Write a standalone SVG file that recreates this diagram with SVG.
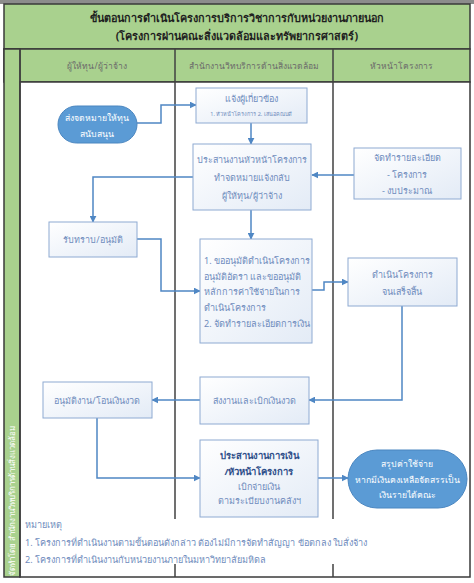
<svg xmlns="http://www.w3.org/2000/svg" width="474" height="583" viewBox="0 0 474 583">
<defs>
<linearGradient id="boxg" x1="0" y1="0" x2="1" y2="1">
<stop offset="0" stop-color="#ffffff"/>
<stop offset="1" stop-color="#e3ebf6"/>
</linearGradient>
<marker id="arr" viewBox="0 0 10 10" refX="9" refY="5" markerWidth="7" markerHeight="7" orient="auto" markerUnits="userSpaceOnUse">
<path d="M0,0 L10,5 L0,10 z" fill="#4f87c4"/>
</marker>
</defs>
<style>
text{font-family:"Noto Sans","Liberation Sans",sans-serif;}
.title{font-size:10.8px;font-weight:bold;fill:#1f1f1f;text-anchor:middle;}
.hdr{font-size:8.5px;fill:#6b6b6b;text-anchor:middle;}
.box{fill:url(#boxg);stroke:#8eaad2;stroke-width:1;}
.bt{font-size:9px;fill:#6f8cbd;text-anchor:middle;}
.btl{font-size:9.1px;fill:#6f8cbd;}
.bb{font-size:9.5px;fill:#2f4f8a;font-weight:bold;text-anchor:middle;}
.small{font-size:5.5px;fill:#6f8cbd;text-anchor:middle;}
.oval{fill:#5b9bd5;stroke:#4a86c0;stroke-width:1;}
.ot{font-size:8.7px;fill:#ffffff;text-anchor:middle;}
.lane{stroke:#404040;stroke-width:1.5;fill:none;}
.con{stroke:#4f87c4;stroke-width:1.5;fill:none;marker-end:url(#arr);}
.note{font-size:9.1px;fill:#6f8cbd;}
</style>
<rect x="0" y="0" width="474" height="583" fill="#ffffff"/>
<rect x="0" y="0" width="474" height="4" fill="#8c8c8c"/>
<!-- title and header -->
<rect x="4" y="4" width="466" height="45" fill="#a9d18e" stroke="#3a3a3a" stroke-width="1.5"/>
<text class="title" x="237" y="22">ขั้นตอนการดำเนินโครงการบริการวิชาการกับหน่วยงานภายนอก</text>
<text class="title" x="237" y="40">(โครงการผ่านคณะสิ่งแวดล้อมและทรัพยากรศาสตร์)</text>
<rect x="4" y="49" width="466" height="33" fill="#a9d18e" stroke="#3a3a3a" stroke-width="1.5"/>
<rect x="4" y="49" width="16" height="528" fill="#a9d18e" stroke="#3a3a3a" stroke-width="1.5"/>
<rect x="20" y="82" width="450" height="495" fill="#ffffff" stroke="#3a3a3a" stroke-width="1.5"/>
<line class="lane" x1="20" y1="49" x2="20" y2="577"/>
<line class="lane" x1="175" y1="49" x2="175" y2="577"/>
<line class="lane" x1="333" y1="49" x2="333" y2="577"/>
<text class="hdr" x="97" y="69">ผู้ให้ทุน/ผู้ว่าจ้าง</text>
<text class="hdr" x="254" y="69">สำนักงานวิทบริการด้านสิ่งแวดล้อม</text>
<text class="hdr" x="401" y="69">หัวหน้าโครงการ</text>
<text x="15" y="576" transform="rotate(-90 15 576)" style="font-size:8px;fill:#ffffff;">จัดทำโดย สำนักงานวิทบริการด้านสิ่งแวดล้อม</text>
<!-- notes -->
<g id="notes">
<rect x="22" y="519" width="330" height="45" fill="#ffffff"/>
<text class="note" x="25" y="528">หมายเหตุ</text>
<text class="note" x="25" y="546">1. โครงการที่ดำเนินงานตามขั้นตอนดังกล่าว ต้องไม่มีการจัดทำสัญญา ข้อตกลง ใบสั่งจ้าง</text>
<text class="note" x="25" y="563">2. โครงการที่ดำเนินงานกับหน่วยงานภายในมหาวิทยาลัยมหิดล</text>
</g>
<!-- connectors -->
<g id="connectors">
<path class="con" d="M137,123 H161 V105 H196"/>
<path class="con" d="M251,123 V144"/>
<path class="con" d="M354,175 H312"/>
<path class="con" d="M193,177 H93 V222"/>
<path class="con" d="M251,210 V239"/>
<path class="con" d="M137,239 H161 V291 H200"/>
<path class="con" d="M312,290 H324 V282 H348"/>
<path class="con" d="M402,306 V400 H309"/>
<path class="con" d="M200,400 H152"/>
<path class="con" d="M97,418 V478 H200"/>
<path class="con" d="M318,478 H348"/>
</g>
<!-- nodes -->
<g id="n1">
<rect class="oval" x="58" y="106" width="79" height="37" rx="18.5"/>
<text class="ot" x="97" y="121">ส่งจดหมายให้ทุน</text>
<text class="ot" x="97" y="137">สนับสนุน</text>
</g>
<g id="n2">
<rect class="box" x="196" y="88" width="111" height="35"/>
<text class="bt" x="251" y="102">แจ้งผู้เกี่ยวข้อง</text>
<text class="small" x="251" y="116">1. หัวหน้าโครงการ 2. เสนอคณบดี</text>
</g>
<g id="n3">
<rect class="box" x="193" y="144" width="118" height="66"/>
<text class="bt" x="252" y="163">ประสานงานหัวหน้าโครงการ</text>
<text class="bt" x="252" y="181">ทำจดหมายแจ้งกลับ</text>
<text class="bt" x="252" y="199">ผู้ให้ทุน/ผู้ว่าจ้าง</text>
</g>
<g id="n4">
<rect class="box" x="354" y="148" width="107" height="51"/>
<text class="bt" x="407" y="161">จัดทำรายละเอียด</text>
<text class="bt" x="407" y="178">- โครงการ</text>
<text class="bt" x="407" y="194">- งบประมาณ</text>
</g>
<g id="n5">
<rect class="box" x="49" y="222" width="88" height="35"/>
<text class="bt" x="93" y="243">รับทราบ/อนุมัติ</text>
</g>
<g id="n6">
<rect class="box" x="200" y="239" width="112" height="104"/>
<text class="btl" x="204" y="264">1. ขออนุมัติดำเนินโครงการ</text>
<text class="btl" x="204" y="280">อนุมัติอัตรา และขออนุมัติ</text>
<text class="btl" x="204" y="295">หลักการค่าใช้จ่ายในการ</text>
<text class="btl" x="204" y="311">ดำเนินโครงการ</text>
<text class="btl" x="204" y="327">2. จัดทำรายละเอียดการเงิน</text>
</g>
<g id="n7">
<rect class="box" x="348" y="258" width="109" height="48"/>
<text class="bt" x="402" y="278">ดำเนินโครงการ</text>
<text class="bt" x="402" y="295">จนเสร็จสิ้น</text>
</g>
<g id="n8">
<rect class="box" x="200" y="377" width="109" height="47"/>
<text class="bt" x="254" y="404">ส่งงานและเบิกเงินงวด</text>
</g>
<g id="n9">
<rect class="box" x="43" y="382" width="109" height="36"/>
<text class="bt" x="97" y="404">อนุมัติงาน/โอนเงินงวด</text>
</g>
<g id="n10">
<rect class="box" x="200" y="440" width="118" height="77"/>
<text class="bb" x="259" y="459">ประสานงานการเงิน</text>
<text class="bb" x="259" y="475">/หัวหน้าโครงการ</text>
<text class="bt" x="259" y="490">เบิกจ่ายเงิน</text>
<text class="bt" x="259" y="504">ตามระเบียบงานคลังฯ</text>
</g>
<g id="n11">
<rect class="oval" x="348" y="450" width="119" height="58" rx="29"/>
<text class="ot" x="407" y="467">สรุปค่าใช้จ่าย</text>
<text class="ot" x="407" y="483">หากมีเงินคงเหลือจัดสรรเป็น</text>
<text class="ot" x="407" y="498">เงินรายได้คณะ</text>
</g>
</svg>
